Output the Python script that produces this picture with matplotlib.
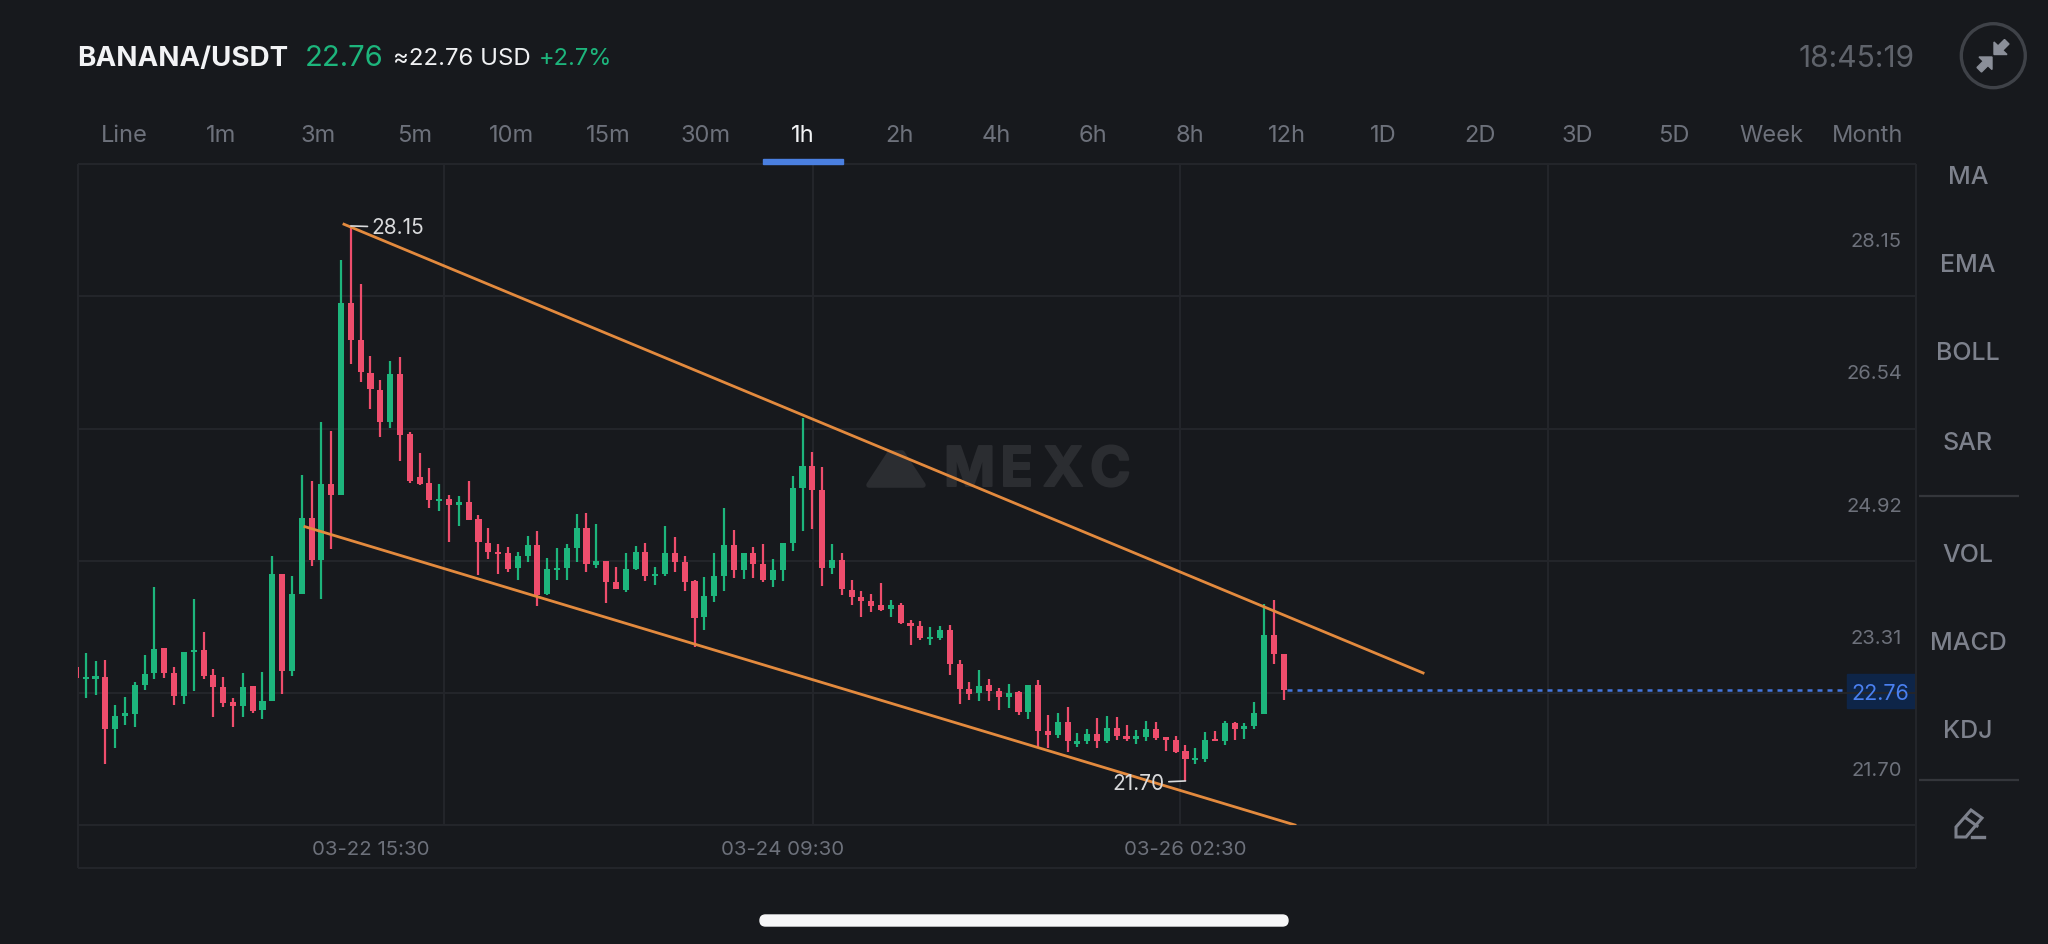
import matplotlib

matplotlib.use("Agg")
from matplotlib import patheffects
from matplotlib import pyplot as plt
from matplotlib.patches import Circle, FancyBboxPatch, Polygon, Rectangle

plt.rcParams["font.family"] = ["Inter", "DejaVu Sans"]

# hourly candles
opens = [23.02, 22.88, 22.89, 22.91, 22.30, 22.46, 22.48, 22.81, 22.95, 23.24,
         22.95, 22.69, 23.20, 23.22, 22.93, 22.79, 22.62, 22.57, 22.80, 22.53,
         22.63, 24.11, 22.98, 23.87, 24.76, 24.27, 25.15, 25.02, 27.25, 26.82,
         26.44, 26.24, 25.87, 26.43, 25.73, 25.23, 25.16, 24.95, 24.98, 24.91,
         24.94, 24.74, 24.47, 24.36, 24.35, 24.18, 24.31, 24.44, 23.87, 24.15,
         24.18, 24.41, 24.64, 24.21, 24.26, 24.01, 23.92, 24.16, 24.36, 24.08,
         24.10, 24.35, 24.25, 24.02, 23.60, 23.85, 24.08, 24.44, 24.15, 24.35,
         24.22, 24.03, 24.15, 24.47, 25.10, 25.36, 25.08, 24.18, 24.27, 23.92,
         23.84, 23.79, 23.74, 23.70, 23.74, 23.54, 23.50, 23.35, 23.36, 23.45,
         23.06, 22.77, 22.72, 22.81, 22.75, 22.67, 22.73, 22.50, 22.81, 22.28,
         22.23, 22.38, 22.13, 22.16, 22.25, 22.16, 22.32, 22.22, 22.19, 22.21,
         22.30, 22.19, 22.18, 22.05, 21.94, 21.95, 22.18, 22.16, 22.37, 22.30,
         22.34, 22.48, 23.40, 23.17]
highs = [23.04, 23.19, 23.09, 23.10, 22.58, 22.67, 22.85, 23.16, 23.95, 23.24,
         23.02, 23.20, 23.81, 23.43, 23.00, 22.91, 22.66, 22.95, 22.80, 22.97,
         24.31, 24.11, 24.08, 25.25, 25.19, 25.87, 25.77, 27.75, 28.15, 27.48,
         26.64, 26.36, 26.58, 26.63, 25.76, 25.51, 25.34, 25.15, 25.02, 25.01,
         25.19, 24.79, 24.64, 24.45, 24.42, 24.36, 24.55, 24.60, 24.29, 24.41,
         24.45, 24.80, 24.81, 24.69, 24.26, 24.19, 24.35, 24.43, 24.46, 24.19,
         24.66, 24.54, 24.31, 24.03, 24.07, 24.35, 24.87, 24.62, 24.35, 24.42,
         24.45, 24.28, 24.47, 25.24, 25.92, 25.52, 25.35, 24.45, 24.35, 24.03,
         23.91, 23.87, 24.00, 23.80, 23.77, 23.57, 23.56, 23.49, 23.50, 23.51,
         23.11, 22.85, 22.99, 22.89, 22.78, 22.83, 22.75, 22.81, 22.87, 22.47,
         22.49, 22.56, 22.26, 22.30, 22.43, 22.45, 22.44, 22.35, 22.29, 22.40,
         22.39, 22.20, 22.22, 22.12, 22.08, 22.27, 22.28, 22.40, 22.39, 22.37,
         22.62, 23.76, 23.80, 23.17]
lows = [22.88, 22.66, 22.70, 21.90, 22.08, 22.35, 22.33, 22.76, 22.89, 22.90,
        22.58, 22.60, 22.75, 22.88, 22.44, 22.56, 22.33, 22.44, 22.49, 22.42,
        22.63, 22.71, 22.92, 23.87, 24.20, 23.81, 24.39, 25.02, 26.55, 26.34,
        26.02, 25.70, 25.80, 25.42, 25.16, 25.14, 24.87, 24.84, 24.48, 24.66,
        24.73, 24.09, 24.28, 24.10, 24.13, 24.04, 24.25, 23.73, 23.86, 24.04,
        24.03, 24.25, 24.13, 24.17, 23.77, 23.93, 23.90, 24.15, 24.02, 23.98,
        24.08, 24.13, 23.91, 23.26, 23.45, 23.78, 23.91, 24.06, 24.05, 24.06,
        24.01, 23.95, 24.02, 24.37, 24.60, 24.63, 23.97, 24.10, 23.86, 23.75,
        23.61, 23.66, 23.68, 23.61, 23.52, 23.28, 23.34, 23.28, 23.34, 22.93,
        22.60, 22.64, 22.63, 22.63, 22.52, 22.55, 22.47, 22.42, 22.09, 22.08,
        22.20, 22.04, 22.09, 22.13, 22.08, 22.14, 22.18, 22.16, 22.13, 22.16,
        22.18, 22.05, 22.03, 21.70, 21.90, 21.92, 22.16, 22.12, 22.18, 22.19,
        22.30, 22.48, 23.06, 22.64]
closes = [22.90, 22.90, 22.91, 22.30, 22.46, 22.48, 22.82, 22.94, 23.23, 22.95,
          22.69, 23.20, 23.22, 22.92, 22.79, 22.61, 22.57, 22.79, 22.51, 22.63,
          24.11, 22.98, 23.87, 24.76, 24.27, 25.15, 25.02, 27.25, 26.82, 26.45,
          26.25, 25.87, 26.43, 25.72, 25.19, 25.15, 24.97, 24.98, 24.91, 24.94,
          24.73, 24.48, 24.36, 24.34, 24.16, 24.31, 24.44, 23.86, 24.16, 24.18,
          24.41, 24.64, 24.22, 24.26, 24.01, 23.93, 24.16, 24.36, 24.08, 24.11,
          24.35, 24.25, 24.01, 23.59, 23.85, 24.08, 24.44, 24.15, 24.35, 24.22,
          24.03, 24.15, 24.47, 25.10, 25.36, 25.08, 24.18, 24.27, 23.93, 23.84,
          23.79, 23.73, 23.69, 23.74, 23.54, 23.50, 23.36, 23.37, 23.45, 23.06,
          22.77, 22.71, 22.80, 22.75, 22.68, 22.72, 22.50, 22.81, 22.28, 22.23,
          22.38, 22.16, 22.16, 22.25, 22.16, 22.32, 22.22, 22.19, 22.22, 22.30,
          22.20, 22.18, 22.04, 21.96, 21.96, 22.18, 22.16, 22.37, 22.30, 22.34,
          22.49, 23.40, 23.18, 22.76]

upper_channel_x = [27.3, 137.2]
upper_channel_y = [28.17, 22.955]
lower_channel_x = [23.33, 124.15]
lower_channel_y = [24.655, 21.188]

last_price = 22.76
high_index, high_price = 28, 28.15
low_index, low_price = 113, 21.70

date_ticks = [30, 72, 113]
date_labels = ["03-22 15:30", "03-24 09:30", "03-26 02:30"]
price_labels = ["28.15", "26.54", "24.92", "23.31", "21.70"]
periods = ["Line", "1m", "3m", "5m", "10m", "15m", "30m", "1h", "2h", "4h",
           "6h", "8h", "12h", "1D", "2D", "3D", "5D", "Week", "Month"]
indicators = ["MA", "EMA", "BOLL", "SAR", "VOL", "MACD", "KDJ"]

BG = "#17191d"
GRID = "#24262b"
MUTED = "#6d717b"
PANEL = "#7d818c"
GREEN = "#1db57c"
RED = "#ee4d6c"
ORANGE = "#e38a3e"
BLUE = "#4477e0"
WATERMARK = "#2b2d31"

fig = plt.figure(figsize=(20.48, 9.45), dpi=100, facecolor=BG)

# page furniture goes on a pixel axes under the chart
page = fig.add_axes([0, 0, 1, 1], zorder=0)
page.set_xlim(0, 2048)
page.set_ylim(945, 0)
page.axis("off")

page.vlines([78, 444, 813, 1180, 1548, 1916], 165, [869, 826, 826, 826, 826, 869],
            color=GRID, lw=1.4)
page.hlines([165, 297, 430, 562, 694, 826, 869], 78, 1916, color=GRID, lw=1.4)

page.text(77, 59, "BANANA/USDT", color="#f2f3f5", fontsize=20, fontweight="bold", va="center")
page.text(305, 59, "22.76", color=GREEN, fontsize=21, va="center")
page.text(393, 59, "≈22.76 USD", color="#f0f1f3", fontsize=17.3, va="center")
page.text(539, 59, "+2.7%", color=GREEN, fontsize=17, va="center")
page.text(1915, 59, "18:45:19", color="#5f636b", fontsize=21.5, va="center", ha="right")

for k, period in enumerate(periods):
    colour = "#f2f3f5" if period == "1h" else MUTED
    page.text(124.5 + 96.85 * k, 136, period, color=colour, fontsize=17, ha="center", va="center")
page.add_patch(Rectangle((763, 160), 80, 5, color="#4a7fe0", zorder=3))

# shrink icon
page.add_patch(Circle((1993.3, 56.7), 32, fill=False, ec="#3f4248", lw=2.4))
page.add_patch(Polygon([[1994, 55.5], [1994, 43], [2007, 55.5]], color="#8b8f99", zorder=2))
page.add_patch(Polygon([[1998, 47], [2004.5, 40.5], [2009, 45], [2002.5, 51.5]], color="#8b8f99", zorder=2))
page.add_patch(Polygon([[1992, 58], [1992, 70.5], [1979, 58]], color="#8b8f99", zorder=2))
page.add_patch(Polygon([[1988, 66.5], [1981.5, 73], [1977, 68.5], [1983.5, 62]], color="#8b8f99", zorder=2))

for label, y in zip(price_labels, [242, 374, 507, 639, 771]):
    page.text(1902, y, label, color=MUTED, fontsize=14.5, ha="right", va="center")

for label, y in zip(indicators, [178, 266, 354, 443, 555, 643, 731]):
    page.text(1968, y, label, color=PANEL, fontsize=18, fontweight="medium", ha="center", va="center")
page.hlines([497, 781], 1919, 2019, color="#34363b", lw=1.6)

# pencil icon
page.add_patch(Polygon([[1971, 811], [1982, 819], [1966, 838], [1956, 838], [1956, 828]],
                       fill=False, ec=PANEL, lw=2.2))
page.plot([1966, 1977], [819, 827], color=PANEL, lw=2.2)
page.plot([1972, 1984], [838, 838], color=PANEL, lw=2.4)

# watermark
page.add_patch(Polygon([[869, 486], [890, 454], [902, 454], [923, 486]], fc=WATERMARK, ec=WATERMARK,
                       joinstyle="round", lw=4))
for letter, x in zip("MEXC", [944, 1000, 1043, 1090]):
    page.text(x, 473, letter, color=WATERMARK, fontsize=39.5, fontweight="bold", va="center",
              path_effects=[patheffects.withStroke(linewidth=1.5, foreground=WATERMARK)])

page.add_patch(Rectangle((1847, 675), 68, 34, color="#0e2548"))
page.text(1909, 694, f"{last_price:.2f}", color="#4a80f0", fontsize=15.5, ha="right", va="center")

page.add_patch(FancyBboxPatch((760, 916), 528, 11, boxstyle="round,pad=0,rounding_size=5.5",
                              mutation_aspect=1, fc="#f7f7f8", ec="#f7f7f8", lw=1))

# candle axes, 9.82 px per candle
ax = fig.add_axes([78 / 2048, 1 - 826 / 945, (1916 - 78) / 2048, (826 - 165) / 945], zorder=1)
ax.patch.set_alpha(0)
ax.set_xlim(0.214, 187.4)
ax.set_ylim(21.188, 28.87)
for spine in ax.spines.values():
    spine.set_visible(False)
ax.set_yticks([])
ax.set_xticks(date_ticks, date_labels, color=MUTED, fontsize=14.7)
ax.tick_params(axis="x", length=0, pad=11)

for i, (o, h, l, c) in enumerate(zip(opens, highs, lows, closes)):
    colour = GREEN if c >= o else RED
    ax.vlines(i, l, h, color=colour, lw=1.6, zorder=2)
    ax.bar(i, max(abs(c - o), 0.025), bottom=min(o, c), width=0.62, color=colour, zorder=2)

ax.plot(upper_channel_x, upper_channel_y, color=ORANGE, lw=2, zorder=3)
ax.plot(lower_channel_x, lower_channel_y, color=ORANGE, lw=2, zorder=3)

ax.plot([len(closes) - 1 + 0.3, 180.3], [last_price, last_price], color=BLUE, lw=1.8,
        linestyle=(0, (2, 2)), zorder=2)

ax.annotate(f"{high_price:.2f}", (high_index, high_price), xytext=(15, -1), textcoords="offset points",
            color="#d9dadc", fontsize=15, va="center", zorder=4,
            arrowprops=dict(arrowstyle="-", color="#d9dadc", lw=1.2, shrinkA=1, shrinkB=0, zorder=4))
ax.annotate(f"{low_price:.2f}", (low_index, low_price), xytext=(-15, -1.5), textcoords="offset points",
            color="#d9dadc", fontsize=15, va="center", ha="right", zorder=4,
            arrowprops=dict(arrowstyle="-", color="#d9dadc", lw=1.2, shrinkA=1, shrinkB=0, zorder=4))

fig.savefig("out.png", dpi=100, facecolor=BG)
